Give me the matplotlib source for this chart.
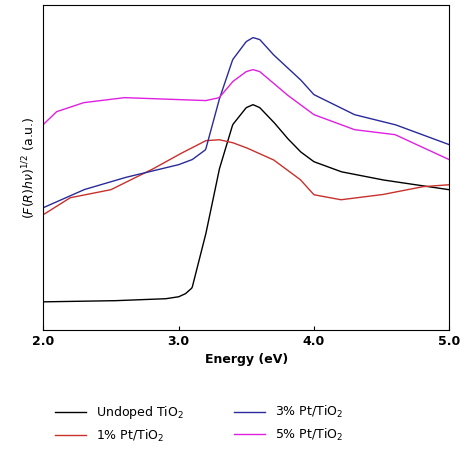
import matplotlib
matplotlib.use("Agg")
import matplotlib.pyplot as plt
import numpy as np

e_black = [2.0, 2.5, 2.9, 3.0, 3.05, 3.1, 3.2, 3.3, 3.4, 3.5, 3.55, 3.6, 3.7, 3.8, 3.9, 4.0, 4.2, 4.5, 4.8, 5.0]
v_black = [28, 29, 31, 33, 36, 42, 95, 160, 205, 222, 225, 222, 208, 192, 178, 168, 158, 150, 144, 140]
e_red = [2.0, 2.2, 2.5, 2.8, 3.0, 3.2, 3.3, 3.4, 3.5, 3.7, 3.9, 4.0, 4.2, 4.5, 4.8, 5.0]
v_red = [115, 132, 140, 160, 175, 189, 190, 187, 182, 170, 150, 135, 130, 135, 143, 145]
e_blue = [2.0, 2.3, 2.6, 3.0, 3.1, 3.2, 3.3, 3.4, 3.5, 3.55, 3.6, 3.7, 3.9, 4.0, 4.3, 4.6, 5.0]
v_blue = [122, 140, 152, 165, 170, 180, 230, 270, 288, 292, 290, 275, 250, 235, 215, 205, 185]
e_mag = [2.0, 2.1, 2.3, 2.6, 3.0, 3.2, 3.3, 3.4, 3.5, 3.55, 3.6, 3.8, 4.0, 4.3, 4.6, 5.0]
v_mag = [205, 218, 227, 232, 230, 229, 232, 248, 258, 260, 258, 235, 215, 200, 195, 170]

fig = plt.figure(figsize=(4.74, 4.55), dpi=100)
ax = fig.add_axes([0.091, 0.275, 0.857, 0.715])
rng_lines = [(e_black, v_black, '#000000', 'Undoped TiO$_2$'),
             (e_red, v_red, '#c8302c', '1% Pt/TiO$_2$'),
             (e_blue, v_blue, '#2a2a9a', '3% Pt/TiO$_2$'),
             (e_mag, v_mag, '#e020e0', '5% Pt/TiO$_2$')]
handles = []
for e, v, c, lab in rng_lines:
    xs = np.linspace(2.0, 5.0, 600)
    ys = np.interp(xs, e, v)
    h, = ax.plot(xs, ys, color=c, lw=1.0, label=lab)
    handles.append(h)
ax.set_xlim(2.0, 5.0)
ax.set_ylim(0, 325)
ax.set_yticks([])
ax.set_xticks([2.0, 3.0, 4.0, 5.0])
ax.tick_params(axis='x', direction='in', length=3)
ax.set_xticklabels(['2.0', '3.0', '4.0', '5.0'], fontweight='bold', fontsize=9)
ax.set_xlabel('Energy (eV)', fontweight='bold', fontsize=9)
ax.set_ylabel(r'$(F(R)h\nu)^{1/2}$ (a.u.)', fontsize=9)
fig.legend(handles=handles, labels=[h.get_label() for h in handles], ncol=2, loc='lower center',
           bbox_to_anchor=(0.42, 0.0), frameon=False, fontsize=9, columnspacing=4, handlelength=2.5)
fig.savefig('out.png', dpi=100)
